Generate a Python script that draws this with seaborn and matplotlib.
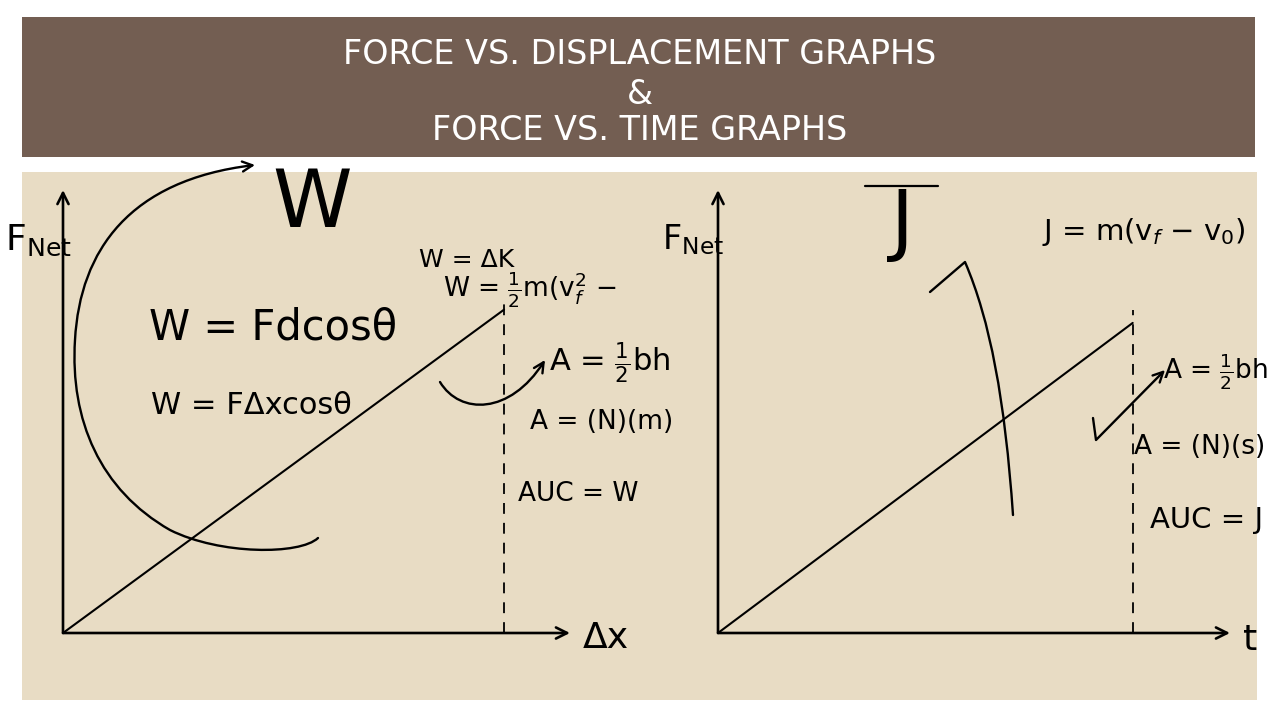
import matplotlib
matplotlib.use('Agg')
import matplotlib.pyplot as plt
import seaborn as sns
from matplotlib.patches import Rectangle, FancyArrowPatch
from matplotlib.path import Path

# Daten der beiden Diagramme (lineare Kraftverläufe)
verschiebung = [0, 8.7]      # Δx
kraft_links = [0, 7.3]       # F_Net
zeit = [0, 8.1]              # t
kraft_rechts = [0, 7.0]      # F_Net

titel_zeilen = ['FORCE VS. DISPLACEMENT GRAPHS', '&', 'FORCE VS. TIME GRAPHS']

sns.set_style('white')
plt.rcParams['font.family'] = ['DejaVu Sans']
plt.rcParams['mathtext.fontset'] = 'dejavusans'

fig = plt.figure(figsize=(12.8, 7.2), dpi=100)
fig.patch.set_facecolor('white')

# Hintergrund-Achse in Pixelkoordinaten
bg = fig.add_axes([0, 0, 1, 1])
bg.set_xlim(0, 1280)
bg.set_ylim(720, 0)
bg.axis('off')
bg.add_patch(Rectangle((22, 17), 1233, 140, facecolor='#735E52', edgecolor='none'))
bg.add_patch(Rectangle((22, 172), 1235, 528, facecolor='#E8DCC4', edgecolor='none'))

for zeile, y in zip(titel_zeilen, [55, 95, 131]):
    bg.text(640, y, zeile, color='white', fontsize=24, ha='center', va='center')

stift = dict(color='black', ha='center', va='center')

# linke Seite: Notizen
bg.text(5, 240, r'$\mathrm{F}_{\mathrm{Net}}$', fontsize=26, color='black', ha='left', va='center')
bg.text(312, 205, 'W', fontsize=58, **stift)
bg.text(273, 328, 'W = Fdcosθ', fontsize=30, **stift)
bg.text(251, 405, 'W = FΔxcosθ', fontsize=22, **stift)
bg.text(467, 260, 'W = ΔK', fontsize=18, **stift)
bg.text(530, 290, r'W = $\frac{1}{2}$m(v$_f^2$ −', fontsize=19, **stift)
bg.text(610, 363, r'A = $\frac{1}{2}$bh', fontsize=22, **stift)
bg.text(602, 422, 'A = (N)(m)', fontsize=19, **stift)
bg.text(578, 494, 'AUC = W', fontsize=19, **stift)
bg.text(606, 638, 'Δx', fontsize=26, **stift)

# rechte Seite: Notizen
bg.text(662, 240, r'$\mathrm{F}_{\mathrm{Net}}$', fontsize=24, color='black', ha='left', va='center')
bg.text(902, 224, 'J', fontsize=56, **stift)
bg.plot([865, 938], [186, 186], color='black', lw=1.6)
bg.text(1144, 232, r'J = m(v$_f$ − v$_0$)', fontsize=21, **stift)
bg.text(1216, 372, r'A = $\frac{1}{2}$bh', fontsize=19, **stift)
bg.text(1200, 447, 'A = (N)(s)', fontsize=19, **stift)
bg.text(1207, 520, 'AUC = J', fontsize=21, **stift)
bg.text(1250, 640, 't', fontsize=26, **stift)

# handgezeichnete Pfeile
def kurve(punkte, codes, pfeil='-'):
    p = FancyArrowPatch(path=Path(punkte, codes), arrowstyle=pfeil, mutation_scale=18,
                        color='black', lw=1.7, fill=False)
    bg.add_patch(p)

C = Path.CURVE4
kurve([(318, 538), (300, 555), (220, 555), (170, 530), (100, 490), (70, 420), (75, 340),
       (80, 250), (130, 180), (255, 165)],
      [Path.MOVETO, C, C, C, C, C, C, C, C, C], '->')
kurve([(440, 382), (460, 415), (510, 415), (545, 360)],
      [Path.MOVETO, C, C, C], '->')
kurve([(1013, 515), (1005, 400), (990, 320), (965, 262), (930, 292)],
      [Path.MOVETO, C, C, C, Path.LINETO])
kurve([(1093, 418), (1096, 440), (1165, 370)],
      [Path.MOVETO, Path.LINETO, Path.LINETO], '->')


def diagramm(pos, x, y):
    ax = fig.add_axes(pos)
    ax.patch.set_alpha(0)
    sns.lineplot(x=x, y=y, ax=ax, color='black', lw=1.5)
    ax.vlines(x[-1], 0, y[-1] + 0.3, colors='black', linestyles=(0, (6, 5)), lw=1.3)
    ax.set_xlim(0, 10)
    ax.set_ylim(0, 10)
    for s in ax.spines.values():
        s.set_visible(False)
    ax.set_xticks([])
    ax.set_yticks([])
    pfeil = dict(arrowstyle='->,head_length=0.8,head_width=0.4', color='black', lw=1.9,
                 shrinkA=0, shrinkB=0)
    ax.annotate('', xy=(1, 0), xytext=(0, 0), xycoords='axes fraction', arrowprops=pfeil)
    ax.annotate('', xy=(0, 1), xytext=(0, 0), xycoords='axes fraction', arrowprops=pfeil)
    return ax


diagramm([63 / 1280, 87 / 720, 507 / 1280, 443 / 720], verschiebung, kraft_links)
diagramm([718 / 1280, 87 / 720, 512 / 1280, 443 / 720], zeit, kraft_rechts)

fig.savefig('out.png', dpi=100)
